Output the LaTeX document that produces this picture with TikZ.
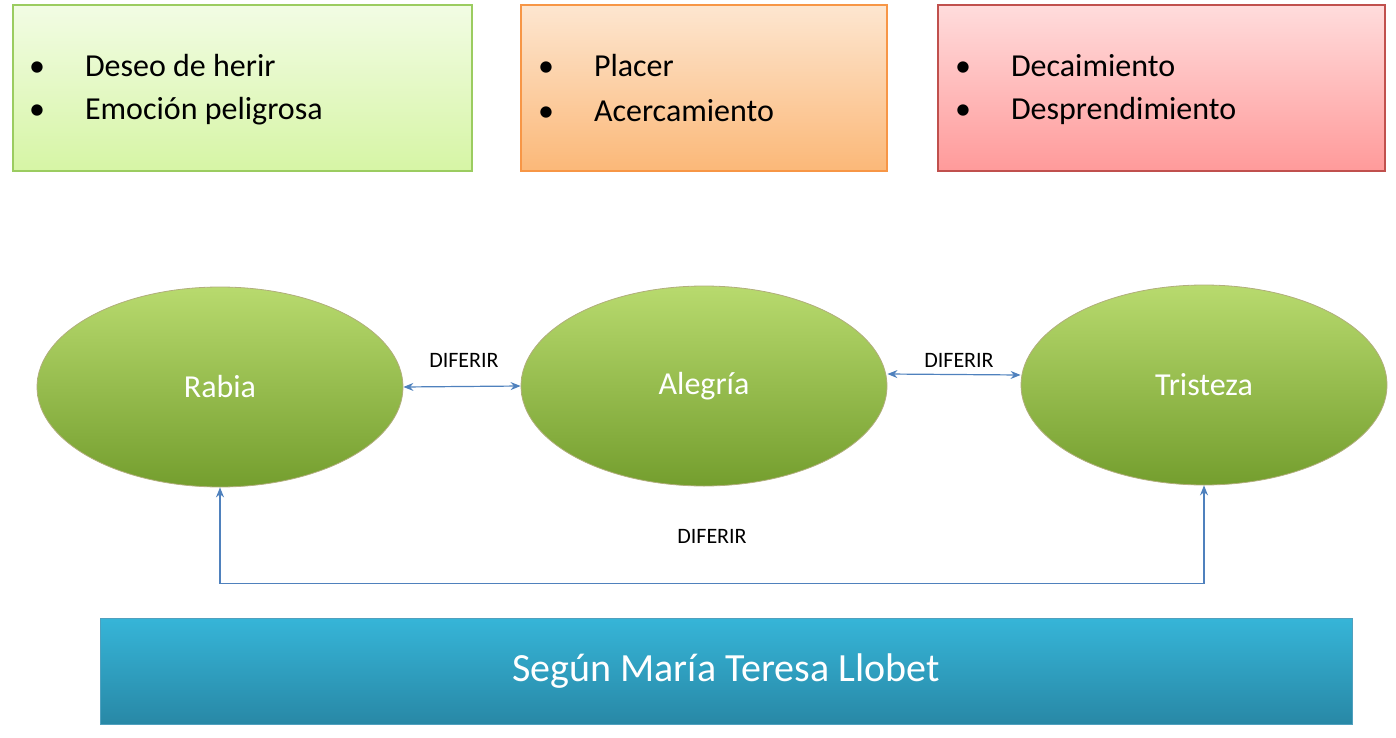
\documentclass[tikz,border=0pt]{standalone}
\usepackage{fontspec}
\setmainfont{Carlito}
\usetikzlibrary{shapes.geometric,arrows.meta}
\definecolor{conn}{HTML}{4F81BD}
\tikzset{
 topbox/.style={draw,line width=0.6pt,minimum width=#1,minimum height=83pt,inner sep=0pt},
 emo/.style={ellipse,draw=olive!60!black!50,line width=0.4pt,minimum width=183pt,minimum height=100pt,inner sep=0pt,
   top color={rgb,255:red,184;green,218;blue,110},bottom color={rgb,255:red,116;green,158;blue,46},
   text=white,font=\fontsize{16}{19}\selectfont},
 lnk/.style={conn,line width=0.6pt,{Stealth[length=5pt,width=4pt]}-{Stealth[length=5pt,width=4pt]}},
 lab/.style={font=\fontsize{11}{13}\selectfont},
 btxt/.style={font=\fontsize{16}{19}\selectfont,anchor=west,align=left}
}
\begin{document}
\begin{tikzpicture}[x=0.5pt,y=-0.5pt]
\useasboundingbox (0,0) rectangle (1396,738);
% top boxes
\node[topbox=229.5pt,draw={rgb,255:red,155;green,204;blue,96},top color={rgb,255:red,242;green,252;blue,228},bottom color={rgb,255:red,214;green,245;blue,165}] (g) at (242.5,88) {};
\node[topbox=183pt,draw={rgb,255:red,247;green,150;blue,70},top color={rgb,255:red,253;green,230;blue,208},bottom color={rgb,255:red,251;green,184;blue,120}] (o) at (704,88) {};
\node[topbox=223.5pt,draw={rgb,255:red,192;green,80;blue,77},top color={rgb,255:red,255;green,220;blue,220},bottom color={rgb,255:red,255;green,154;blue,154}] (r) at (1161.5,88) {};
\node[btxt] (g1) at (22,66) {\textbullet\hspace{20pt}Deseo de herir};
\node[btxt] (g2) at (22,111) {\textbullet\hspace{20pt}Emoción peligrosa};
\node[btxt] (o1) at (531,66) {\textbullet\hspace{20pt}Placer};
\node[btxt] (o2) at (531,111) {\textbullet\hspace{20pt}Acercamiento};
\node[btxt] (r1) at (948,66) {\textbullet\hspace{20pt}Decaimiento};
\node[btxt] (r2) at (948,111) {\textbullet\hspace{20pt}Desprendimiento};
% ellipses
\node[emo] (rabia) at (220,387) {Rabia};
\node[emo] (alegria) at (704,386) {Alegría};
\node[emo] (tristeza) at (1204,385) {Tristeza};
\draw[lnk] (rabia.east) -- (alegria.west);
\draw[lnk] ([yshift=6pt]alegria.east) -- ([yshift=5pt]tristeza.west);
\draw[lnk] (rabia.south) -- ++(0,96) -| (tristeza.south);
\node[lab] (d1) at (464,360) {DIFERIR};
\node[lab] (d2) at (959,360) {DIFERIR};
\node[lab] (d3) at (712,536) {DIFERIR};
% bottom bar
\node[draw={rgb,255:red,80;green,160;blue,190},line width=0.4pt,minimum width=626pt,minimum height=53pt,inner sep=0pt,
  top color={rgb,255:red,54;green,181;blue,216},bottom color={rgb,255:red,40;green,136;blue,166},
  text=white,font=\fontsize{20}{24}\selectfont] (bar) at (726,671) {Según María Teresa Llobet};
\end{tikzpicture}
\end{document}
